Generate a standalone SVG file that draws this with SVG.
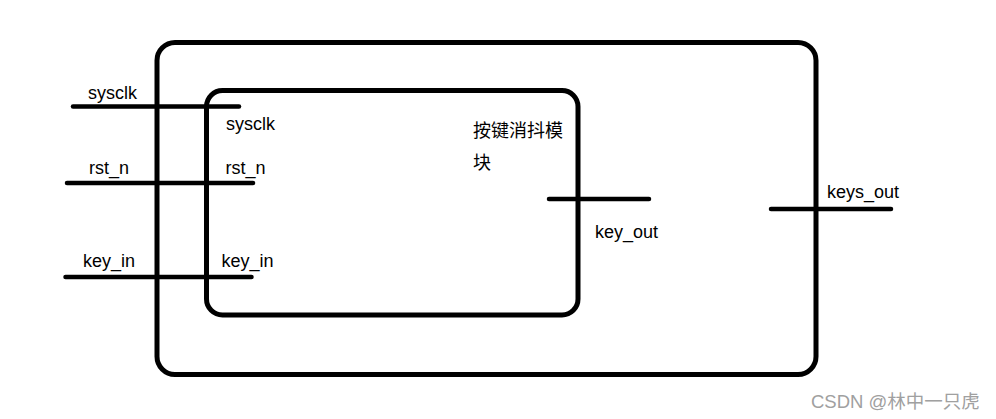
<svg xmlns="http://www.w3.org/2000/svg" width="996" height="419" viewBox="0 0 996 419">
<style>
.box{fill:none;stroke:#000;stroke-width:5}
.wire{stroke:#000;stroke-width:4.5;stroke-linecap:round}
text{font-family:"Liberation Sans","Noto Sans CJK SC",sans-serif;font-size:18px;fill:#000}
.cjk{font-family:"Noto Sans CJK SC",sans-serif;font-size:18px}
.wm{fill:#a0a0a0;font-size:18.5px}
</style>
<rect width="996" height="419" fill="#fff"/>
<g id="top_module">
<rect class="box" x="157" y="42.5" width="659" height="332" rx="18"/>
</g>
<g id="key_filter">
<rect class="box" x="206.5" y="90.5" width="371.5" height="224.5" rx="16"/>
<text class="cjk" x="473" y="137">按键消抖模</text>
<text class="cjk" x="473" y="169">块</text>
</g>
<g id="connectors">
<line class="wire" x1="73" y1="106.5" x2="239" y2="106.5"/>
<line class="wire" x1="67" y1="183" x2="253" y2="183"/>
<line class="wire" x1="65.5" y1="277" x2="251.5" y2="277"/>
<line class="wire" x1="549" y1="199" x2="649" y2="199"/>
<line class="wire" x1="771" y1="209" x2="891" y2="209"/>
</g>
<g id="labels">
<text x="88" y="98.5">sysclk</text>
<text x="226" y="130">sysclk</text>
<text x="89" y="174">rst_n</text>
<text x="225.5" y="174">rst_n</text>
<text x="83" y="267">key_in</text>
<text x="221.5" y="267">key_in</text>
<text x="595" y="238">key_out</text>
<text x="827" y="198">keys_out</text>
</g>
<text class="wm" x="811" y="408">CSDN @林中一只虎</text>
</svg>
